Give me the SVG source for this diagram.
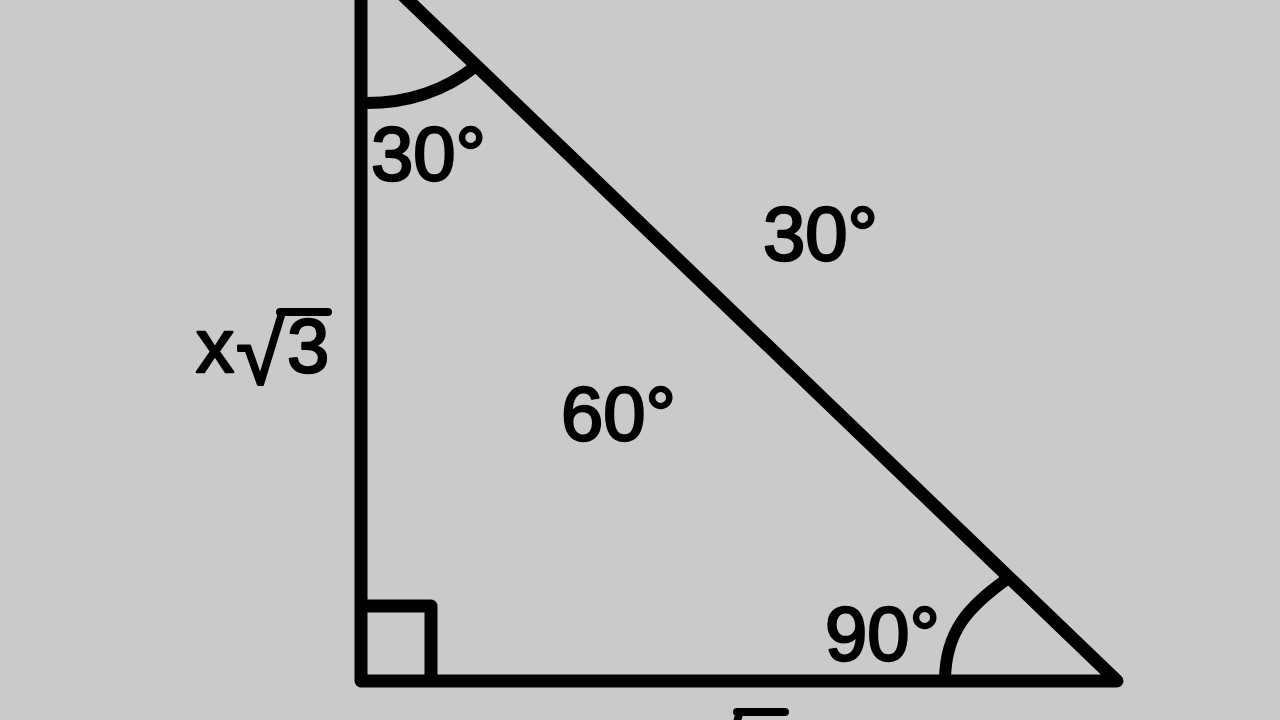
<svg xmlns="http://www.w3.org/2000/svg" width="1280" height="720" viewBox="0 0 1280 720">
  <style>
    .ln { fill: none; stroke: #000; stroke-width: 13; stroke-linejoin: round; stroke-linecap: butt; }
    .arc { fill: none; stroke: #000; stroke-width: 12; }
    .lbl { font-family: "Liberation Sans", Arial, sans-serif; font-weight: normal; font-size: 76px; fill: #000; stroke: #000; stroke-width: 2.4; stroke-linejoin: round; }
    .bar { stroke: #000; stroke-width: 8; stroke-linecap: round; }
  </style>
  <rect width="1280" height="720" fill="#cacaca"/>
  <g id="triangle">
    <path class="ln" d="M 361 -45 L 361 681 L 1117 681 Z"/>
    <path class="ln" d="M 361 606 L 431 606 L 431 681" stroke-width="12"/>
    <path class="arc" d="M 361 103 C 402 104, 442 93, 476 66"/>
    <path class="arc" d="M 945 681 C 945 632, 968 606, 1010 577"/>
  </g>
  <g id="labels">
    <text class="lbl" x="371" y="180">30°</text>
    <text class="lbl" x="763" y="260">30°</text>
    <text class="lbl" x="561" y="440">60°</text>
    <text class="lbl" x="825" y="660">90°</text>
    <g id="side-left">
      <text class="lbl" x="196" y="372">x<tspan font-size="88" x="236" y="384">√</tspan><tspan x="287" y="372">3</tspan></text>
      <line class="bar" x1="280" y1="312" x2="328" y2="312"/>
    </g>
    <g id="side-bottom">
      <text class="lbl" x="653" y="774">x<tspan font-size="88" x="693" y="786">√</tspan><tspan x="744" y="776">3</tspan></text>
      <line class="bar" x1="737" y1="712" x2="785" y2="712"/>
    </g>
  </g>
</svg>
